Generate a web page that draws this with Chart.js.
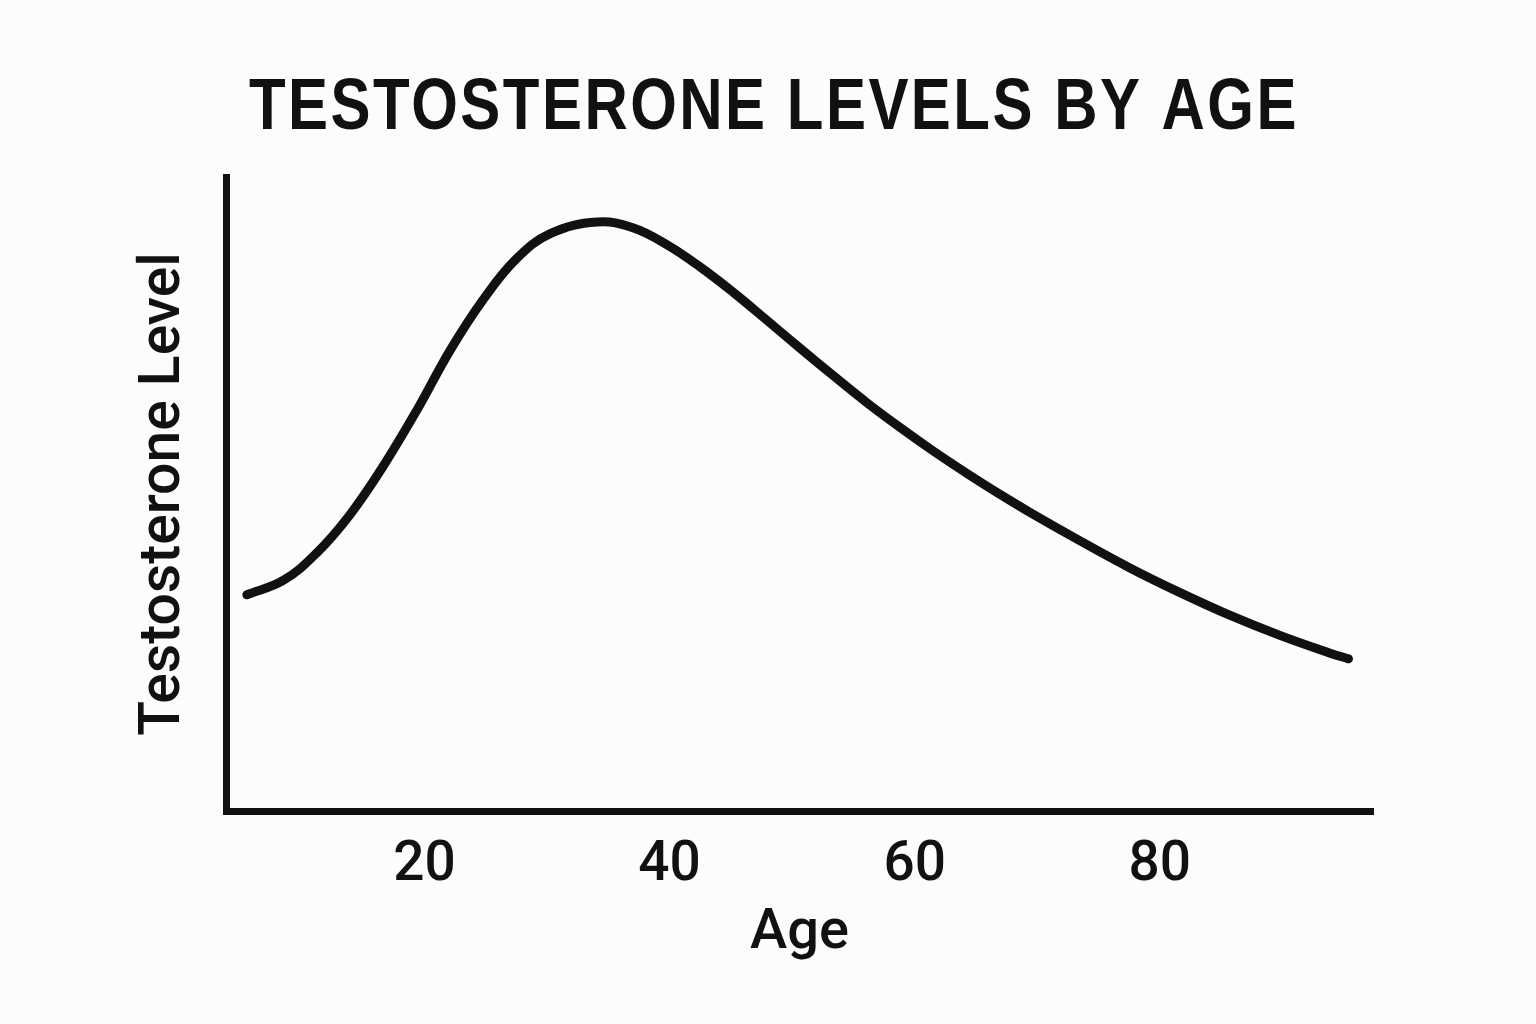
<!DOCTYPE html>
<html>
<head>
<meta charset="utf-8">
<title>Testosterone Levels by Age</title>
<script src="https://cdn.jsdelivr.net/npm/chart.js@4/dist/chart.umd.min.js"></script>
<style>
  html, body { margin: 0; padding: 0; background: #fcfcfa; }
  canvas { display: block; }
</style>
</head>
<body>
<canvas id="ageChart" width="1536" height="1024"></canvas>
<script>
// values (level is on an unlabelled 0-100 scale)
const chartTitle = "TESTOSTERONE LEVELS BY AGE";
const xTitle = "Age";
const yTitle = "Testosterone Level";
const ages = [5.5, 8.5, 11.2, 13.9, 16.6, 19.4, 22.1, 24.8, 27.5, 30.3, 34.1, 37.0, 39.8, 42.5, 45.2, 48.0,
  50.7, 53.4, 56.1, 58.8, 61.5, 64.3, 67.0, 69.4, 73.5, 77.6, 81.7, 85.8, 89.8, 93.9, 95.4];
const levels = [34.1, 36.4, 40.7, 46.7, 54.3, 63.3, 72.7, 80.7, 87.1, 91.1, 92.9, 92.0, 89.3, 85.8, 81.8, 77.3,
  72.9, 68.6, 64.4, 60.5, 56.8, 53.2, 49.9, 47.1, 42.6, 38.3, 34.4, 30.8, 27.7, 24.9, 24.0];
const tickValues = [20, 40, 60, 80];
const tickLabels = ["20", "40", "60", "80"];

const ink = "#111111";
const family = "Roboto, 'Liberation Sans', Arial, sans-serif";

// big title with some tracking, chart.js title can't do letter spacing
const spacedTitle = {
  id: "spacedTitle",
  afterDraw(chart) {
    const ctx = chart.ctx;
    ctx.save();
    ctx.font = "bold 72px 'Liberation Sans', Arial, sans-serif";
    ctx.letterSpacing = "3px";
    ctx.fillStyle = ink;
    ctx.textAlign = "center";
    ctx.textBaseline = "alphabetic";
    ctx.fillText(chartTitle, 774, 129, 1050);
    ctx.restore();
  }
};

const points = ages.map((a, i) => ({ x: a, y: levels[i] }));

new Chart(document.getElementById("ageChart"), {
  type: "line",
  data: {
    datasets: [{
      label: yTitle,
      data: points,
      borderColor: ink,
      borderWidth: 9,
      borderCapStyle: "round",
      borderJoinStyle: "round",
      tension: 0.4,
      pointRadius: 0,
      fill: false
    }]
  },
  options: {
    responsive: false,
    animation: false,
    layout: { padding: { top: 177, right: 163, bottom: 0, left: 0 } },
    plugins: {
      legend: { display: false },
      title: { display: false },
      tooltip: { enabled: false }
    },
    scales: {
      x: {
        type: "linear",
        min: 3.8,
        max: 97.4,
        grid: { display: false, drawTicks: false },
        border: { display: true, color: ink, width: 7 },
        afterBuildTicks: scale => { scale.ticks = tickValues.map(v => ({ value: v })); },
        afterFit: scale => { scale.height = 1024 - 811; },
        ticks: {
          padding: 22,
          color: ink,
          font: { family: family, size: 55, weight: 500 },
          maxRotation: 0,
          autoSkip: false,
          callback: (value) => tickLabels[tickValues.indexOf(value)]
        },
        title: {
          display: true,
          text: xTitle,
          color: ink,
          font: { family: family, size: 56, weight: 500 },
          padding: { top: 0, bottom: 56 }
        }
      },
      y: {
        min: 0,
        max: 100,
        grid: { display: false, drawTicks: false },
        border: { display: true, color: ink, width: 7 },
        ticks: { display: false },
        afterFit: scale => { scale.width = 226; },
        title: {
          display: true,
          text: yTitle,
          color: ink,
          font: { family: family, size: 57, weight: 500 },
          padding: { top: 131, bottom: 0 }
        }
      }
    }
  },
  plugins: [spacedTitle]
});
</script>
</body>
</html>
